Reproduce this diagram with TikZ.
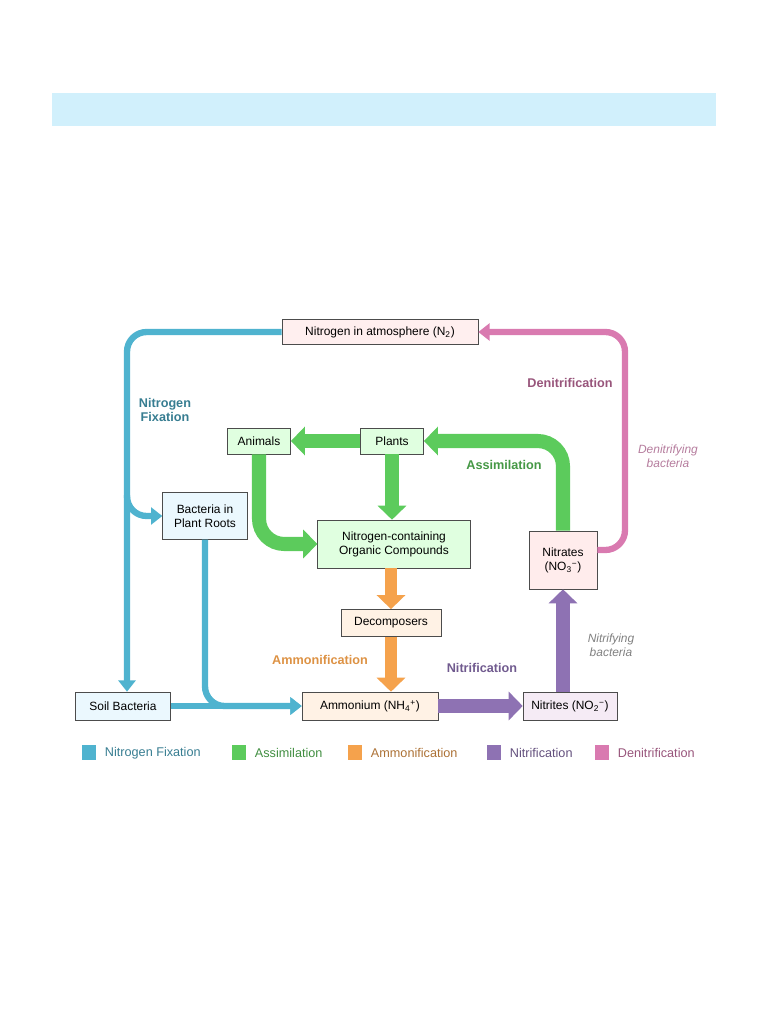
\documentclass[tikz,border=0pt]{standalone}
\usepackage{fontspec}
\setmainfont{Liberation Sans}
\usepackage{xcolor}
\usetikzlibrary{arrows.meta}
\definecolor{fixc}{HTML}{4FB3CF}
\definecolor{assc}{HTML}{5CCB5C}
\definecolor{ammc}{HTML}{F5A24C}
\definecolor{nitc}{HTML}{8E72B3}
\definecolor{denc}{HTML}{D97AB0}
\newcommand{\ion}[2]{\textsubscript{#1}\textsuperscript{#2}}
\begin{document}
\begin{tikzpicture}[
    x=0.025cm, y=-0.025cm,
    box/.style={
        draw=black!70,
        align=center,
        font=\fontsize{8.5}{10}\selectfont,
        inner sep=2pt
    },
    flow/.style={rounded corners=14pt, -{Triangle[length=8pt,width=12pt]}},
    fat/.style={rounded corners=18pt, -{Triangle[length=10pt,width=20pt]}},
    lab/.style={font=\fontsize{9}{10}\selectfont\bfseries, align=center},
    note/.style={font=\fontsize{8.5}{10}\selectfont\itshape, align=center, text=gray},
    key/.style={font=\fontsize{9}{10}\selectfont, anchor=west}
]
\useasboundingbox (0,0) rectangle (768,1024);
\fill[cyan!18] (52,93) rectangle (716,126);

% nodes
\node[box, fill=pink!25, minimum width=4.9cm, minimum height=0.62cm] (atm) at (380,332) {Nitrogen in atmosphere (N\textsubscript{2})};
\node[box, fill=green!12, minimum width=1.58cm, minimum height=0.65cm] (animals) at (259,441) {Animals};
\node[box, fill=green!12, minimum width=1.58cm, minimum height=0.65cm] (plants) at (392,441) {Plants};
\node[box, fill=cyan!8, minimum width=2.12cm, minimum height=1.17cm] (roots) at (205,516) {Bacteria in\\Plant Roots};
\node[box, fill=green!12, minimum width=3.82cm, minimum height=1.2cm] (organic) at (394,544) {Nitrogen-containing\\Organic Compounds};
\node[box, fill=pink!30, minimum width=1.7cm, minimum height=1.45cm] (nitrates) at (563,560) {Nitrates\\(NO\ion{3}{−})};
\node[box, fill=orange!10, minimum width=2.5cm, minimum height=0.68cm] (decomp) at (391,623) {Decomposers};
\node[box, fill=cyan!8, minimum width=2.38cm, minimum height=0.7cm] (soil) at (123,706) {Soil Bacteria};
\node[box, fill=orange!10, minimum width=3.4cm, minimum height=0.7cm] (ammonium) at (370,706) {Ammonium (NH\ion{4}{+})};
\node[box, fill=violet!8, minimum width=2.35cm, minimum height=0.7cm] (nitrites) at (570,706) {Nitrites (NO\ion{2}{−})};

% nitrogen fixation
\draw[fixc, line width=4.5pt, flow] (atm.west) -| (soil.north -| 127,0);
\draw[fixc, line width=4.5pt, flow] (127,495) |- (roots.west);
\draw[fixc, line width=4.5pt, flow] (roots.south) |- (ammonium.west);
\draw[fixc, line width=4.5pt, flow] (soil.east) -- (ammonium.west);

% assimilation
\draw[assc, line width=10pt, fat] (nitrates.north) |- (plants.east);
\draw[assc, line width=10pt, fat] (plants.west) -- (animals.east);
\draw[assc, line width=10pt, fat] (plants.south) -- (plants.south |- organic.north);
\draw[assc, line width=10pt, fat] (animals.south) |- (organic.west);

% ammonification
\draw[ammc, line width=9pt, fat] (organic.south -| decomp) -- (decomp.north);
\draw[ammc, line width=9pt, fat] (decomp.south) -- (decomp.south |- ammonium.north);

% nitrification
\draw[nitc, line width=10pt, fat] (ammonium.east) -- (nitrites.west);
\draw[nitc, line width=10pt, fat] (nitrites.north -| nitrates) -- (nitrates.south);

% denitrification
\draw[denc, line width=4.5pt, flow] (nitrates.east |- 0,550) -| (625,332) -- (atm.east);

% labels
\node[lab, text=fixc!70!black] (fixlab) at (165,410) {Nitrogen\\Fixation};
\node[lab, text=denc!70!black] (denlab) at (570,383) {Denitrification};
\node[note, text=denc!60!gray] (denbac) at (668,456) {Denitrifying\\bacteria};
\node[lab, text=assc!75!black] (asslab) at (504,465) {Assimilation};
\node[lab, text=ammc!90!black] (ammlab) at (320,660) {Ammonification};
\node[lab, text=nitc!80!black] (nitlab) at (482,668) {Nitrification};
\node[note] (nitbac) at (611,645) {Nitrifying\\bacteria};

% legend
\foreach \px/\col/\txt in {82/fixc/Nitrogen Fixation, 232/assc/Assimilation, 348/ammc/Ammonification, 487/nitc/Nitrification, 595/denc/Denitrification} {
    \fill[\col] (\px,745) rectangle (\px+14,760);
    \node[key, text=\col!70!black] at (\px+18,753) {\txt};
}
\end{tikzpicture}
\end{document}
